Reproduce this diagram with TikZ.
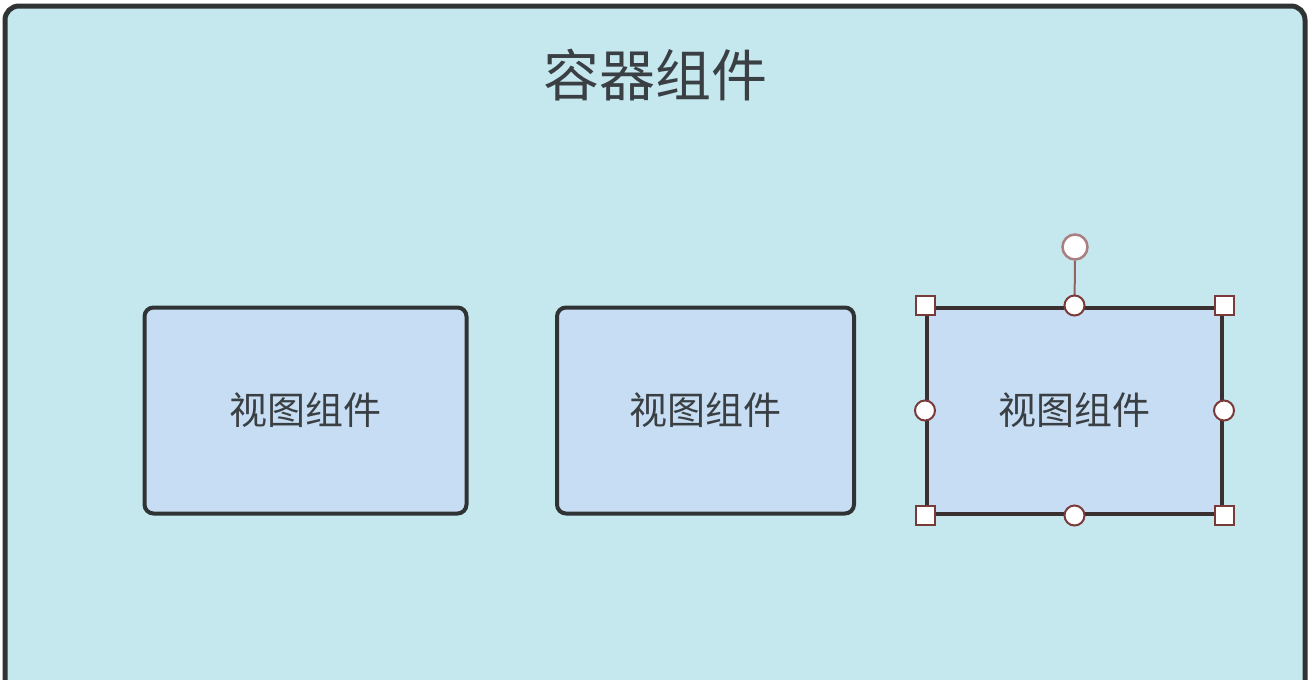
\documentclass[tikz,border=0pt]{standalone}
\usepackage{fontspec}
\newfontfamily\cjk{Noto Sans CJK SC}
\definecolor{contfill}{HTML}{C5E7EE}
\definecolor{viewfill}{HTML}{C7DDF3}
\definecolor{edge}{HTML}{303333}
\definecolor{seledge}{HTML}{3A3030}
\definecolor{handle}{HTML}{7A3A3A}
\definecolor{txt}{HTML}{3A3F44}
\tikzset{
  viewbox/.style={draw=edge, line width=4pt, fill=viewfill, rounded corners=9pt, minimum width=322pt, minimum height=206pt, inner sep=0pt, font=\cjk\fontsize{38}{44}\selectfont, text=txt},
  selbox/.style={draw=seledge, line width=4pt, fill=viewfill, minimum width=295pt, minimum height=206pt, inner sep=0pt, font=\cjk\fontsize{38}{44}\selectfont, text=txt},
  sqhandle/.style={draw=handle, line width=2pt, fill=white, minimum size=19pt, inner sep=0pt},
  cihandle/.style={draw=handle, line width=2pt, fill=white, circle, minimum size=20pt, inner sep=0pt},
}
\begin{document}
\begin{tikzpicture}[x=1pt,y=-1pt]
\useasboundingbox (0,0) rectangle (1310,680);
\fill[white] (0,0) rectangle (1310,680);
\begin{scope}
\clip (0,0) rectangle (1310,680);
\draw[edge, line width=5pt, fill=contfill, rounded corners=14pt] (5,6) rectangle (1305,720);
\end{scope}
\node[font=\cjk\fontsize{56}{62}\selectfont, text=txt] (title) at (655,75) {容器组件};
\node[viewbox] (v1) at (305.5,410.5) {视图组件};
\node[viewbox, minimum width=297pt] (v2) at (705.5,410.5) {视图组件};
\node[selbox] (v3) at (1074.5,410.5) {视图组件};
\node[cihandle, minimum size=25pt, line width=2.5pt, draw=handle!65] (rot) at (1075,247) {};
\draw[handle!80, line width=2pt] (rot.south) -- (v3.north);
\node[sqhandle] (c1) at (v3.north west) {};
\node[sqhandle] (c2) at (v3.north east) {};
\node[sqhandle] (c3) at (v3.south west) {};
\node[sqhandle] (c4) at (v3.south east) {};
\node[cihandle] (m1) at (v3.north) {};
\node[cihandle] (m2) at (v3.south) {};
\node[cihandle] (m3) at (v3.west) {};
\node[cihandle] (m4) at (v3.east) {};
\end{tikzpicture}
\end{document}
